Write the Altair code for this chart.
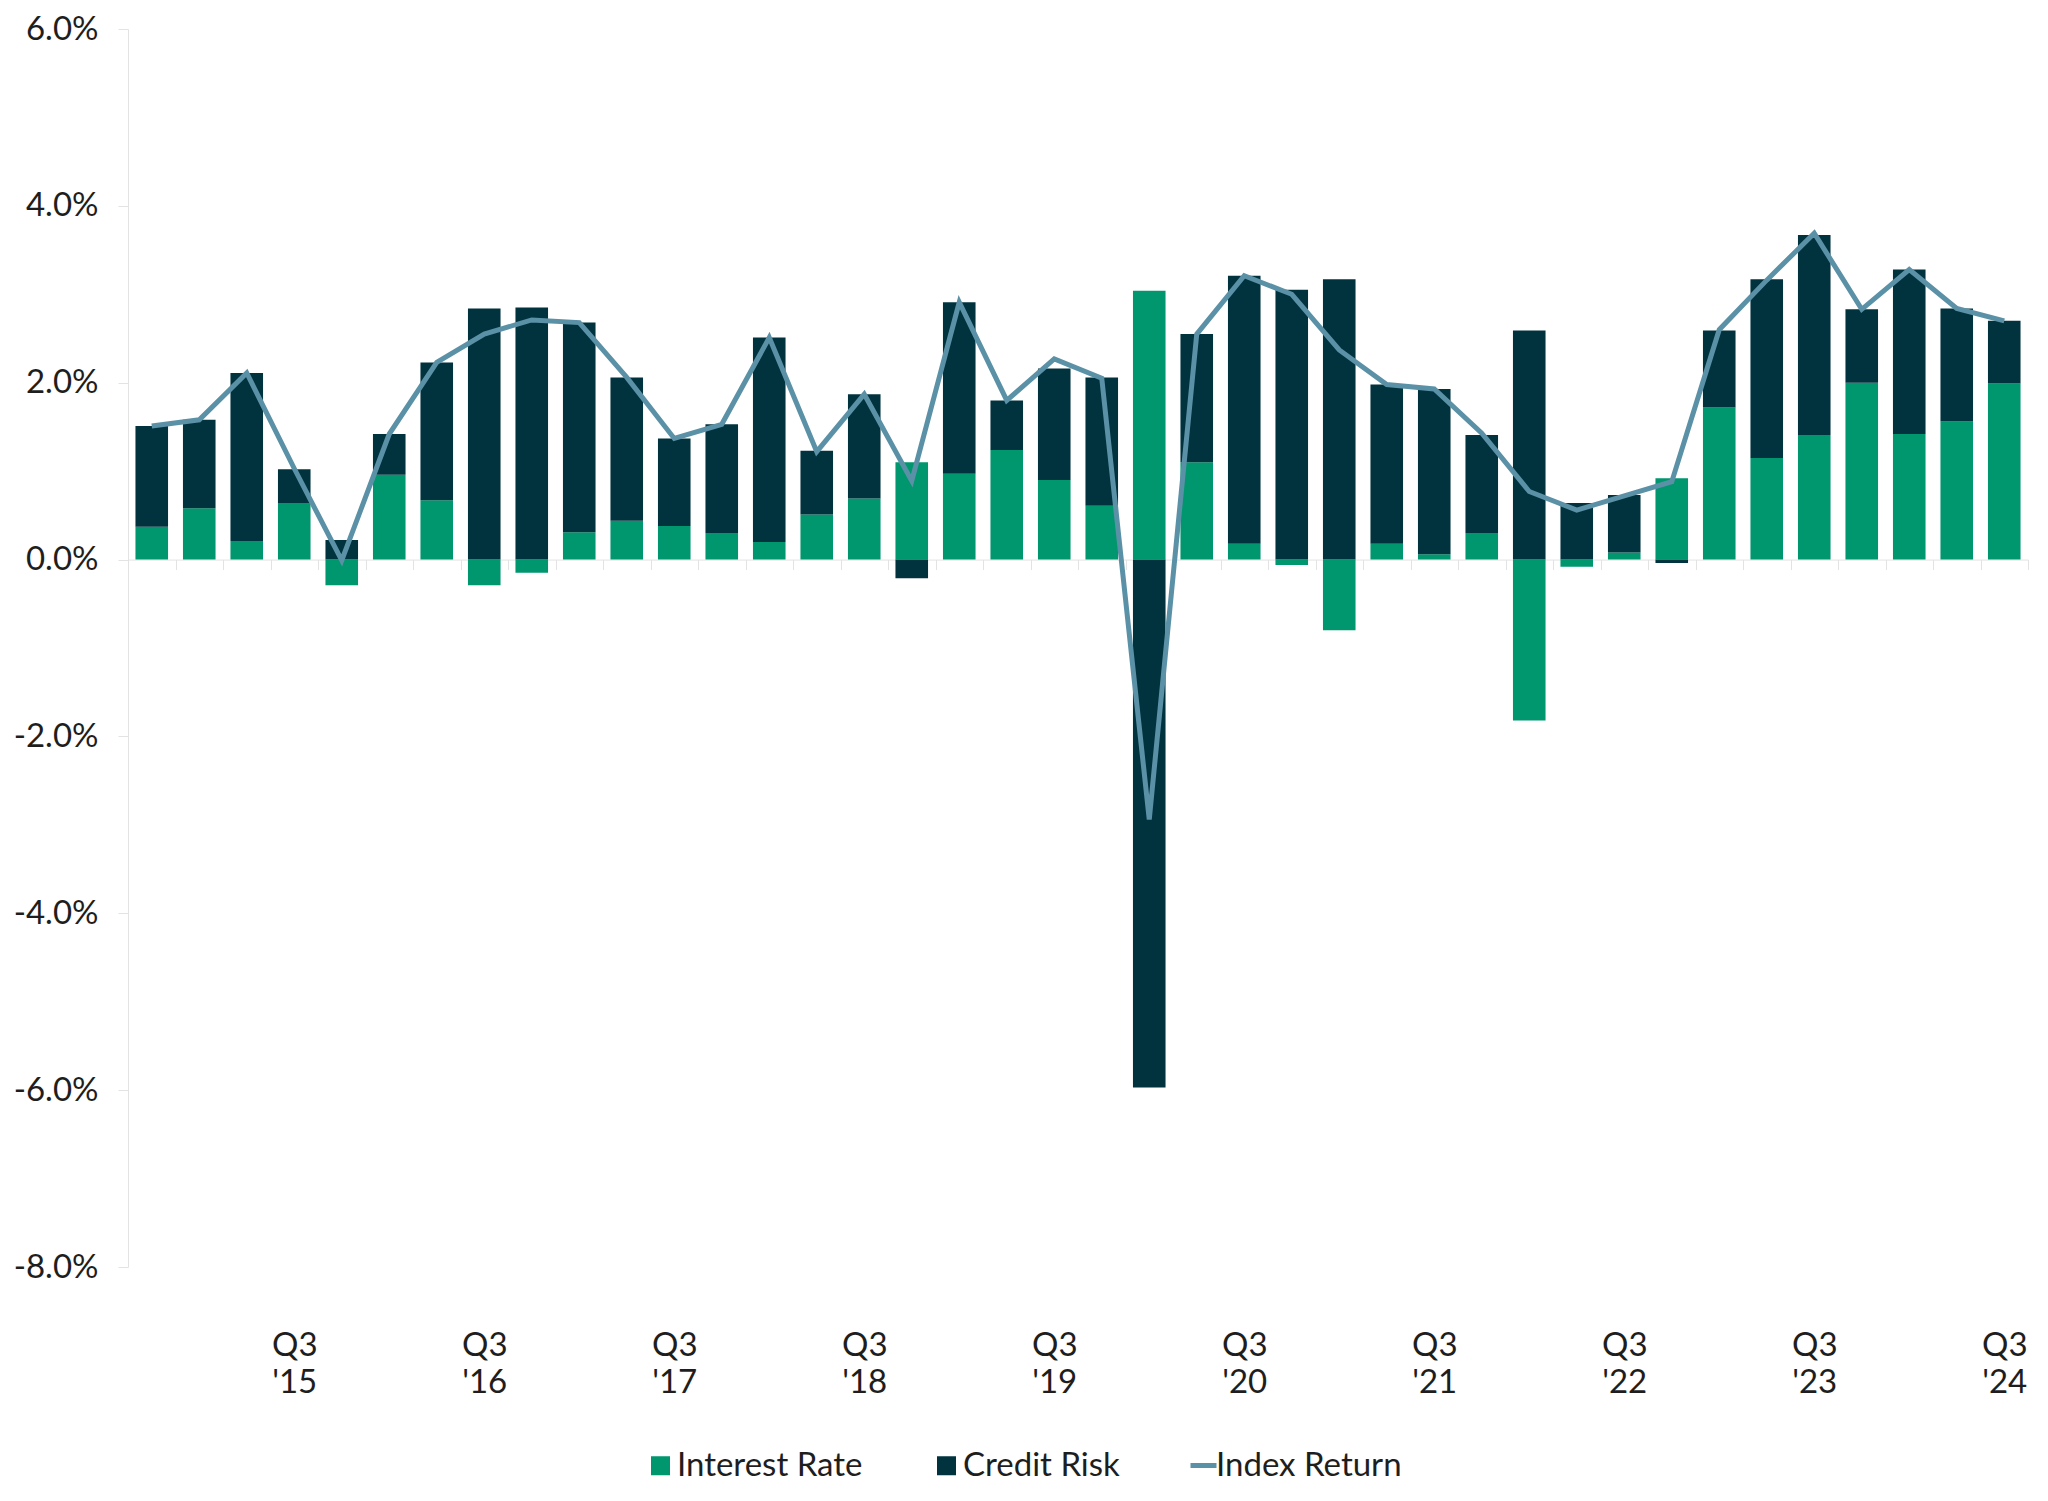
import altair as alt
import pandas as pd

quarters = [
    "Q4 '14", "Q1 '15", "Q2 '15", "Q3 '15", "Q4 '15", "Q1 '16", "Q2 '16", "Q3 '16",
    "Q4 '16", "Q1 '17", "Q2 '17", "Q3 '17", "Q4 '17", "Q1 '18", "Q2 '18", "Q3 '18",
    "Q4 '18", "Q1 '19", "Q2 '19", "Q3 '19", "Q4 '19", "Q1 '20", "Q2 '20", "Q3 '20",
    "Q4 '20", "Q1 '21", "Q2 '21", "Q3 '21", "Q4 '21", "Q1 '22", "Q2 '22", "Q3 '22",
    "Q4 '22", "Q1 '23", "Q2 '23", "Q3 '23", "Q4 '23", "Q1 '24", "Q2 '24", "Q3 '24",
]

interest_rate = [
    0.37, 0.58, 0.21, 0.64, -0.29, 0.96, 0.67, -0.29,
    -0.15, 0.31, 0.44, 0.38, 0.30, 0.20, 0.51, 0.69,
    1.10, 0.97, 1.24, 0.90, 0.61, 3.04, 1.10, 0.18,
    -0.06, -0.80, 0.18, 0.06, 0.30, -1.82, -0.08, 0.08,
    0.92, 1.72, 1.15, 1.41, 2.00, 1.42, 1.56, 1.99,
]

credit_risk = [
    1.14, 1.00, 1.90, 0.38, 0.22, 0.46, 1.56, 2.84,
    2.85, 2.37, 1.62, 0.99, 1.23, 2.31, 0.72, 1.18,
    -0.21, 1.94, 0.56, 1.26, 1.45, -5.97, 1.45, 3.03,
    3.05, 3.17, 1.80, 1.87, 1.11, 2.59, 0.64, 0.65,
    -0.04, 0.87, 2.02, 2.26, 0.83, 1.86, 1.28, 0.71,
]

index_return = [
    1.51, 1.58, 2.11, 1.03, -0.01, 1.42, 2.23, 2.55,
    2.71, 2.68, 2.06, 1.37, 1.53, 2.51, 1.22, 1.87,
    0.89, 2.91, 1.80, 2.27, 2.05, -2.94, 2.55, 3.21,
    3.00, 2.37, 1.98, 1.93, 1.43, 0.77, 0.56, 0.72,
    0.88, 2.60, 3.16, 3.69, 2.83, 3.28, 2.84, 2.70,
]

series_names = ["Interest Rate", "Credit Risk"]
y_ticks = [-8, -6, -4, -2, 0, 2, 4, 6]

GREEN = "#00966E"
DARK = "#01333F"
LINE = "#5B91A6"
GRAY = "#E3E3E3"
TEXT = "#1E1E1E"
FONT = "Lato"
FS = 33

rows = []
for q, ir, cr in zip(quarters, interest_rate, credit_risk):
    rows.append({"quarter": q, "series": series_names[0], "value": ir, "ord": 0})
    rows.append({"quarter": q, "series": series_names[1], "value": cr, "ord": 1})
bars_df = pd.DataFrame(rows)
line_df = pd.DataFrame({"quarter": quarters, "value": index_return, "name": "Index Return"})

W, H = 1900, 1238
y_min, y_max = -8, 6
zero_offset = -H * (0 - y_min) / (y_max - y_min)

x_axis = alt.Axis(
    title=None,
    orient="bottom",
    offset=zero_offset,
    tickBand="extent",
    domainColor=GRAY,
    domainWidth=1,
    tickColor=GRAY,
    tickWidth=1,
    tickSize=10,
    grid=False,
    labelAngle=0,
    labelAlign="center",
    labelBaseline="top",
    labelPadding=760,
    labelFontSize=FS,
    labelLineHeight=37,
    labelColor=TEXT,
    labelFont=FONT,
    labelOverlap=False,
    labelFlush=False,
    labelExpr="(isString(datum.value) && indexof(datum.value, 'Q3') === 0) ? split(datum.value, ' ') : ''",
)

y_axis = alt.Axis(
    title=None,
    values=y_ticks,
    domainColor=GRAY,
    domainWidth=1,
    tickColor=GRAY,
    tickWidth=1,
    tickSize=10,
    grid=False,
    labelPadding=20,
    labelFontSize=FS,
    labelColor=TEXT,
    labelFont=FONT,
    labelExpr="replace(format(datum.value, '.1f'), '\u2212', '-') + '%'",
)

x_scale = alt.Scale(paddingInner=0, paddingOuter=0)
y_scale = alt.Scale(domain=[y_min, y_max], nice=False, zero=False)

bars = alt.Chart(bars_df).mark_bar(width=alt.RelativeBandSize(0.686)).encode(
    x=alt.X("quarter:N", sort=quarters, scale=x_scale, axis=x_axis),
    y=alt.Y("value:Q", stack="zero", scale=y_scale, axis=y_axis),
    color=alt.Color(
        "series:N",
        scale=alt.Scale(domain=series_names, range=[GREEN, DARK]),
        legend=alt.Legend(
            title=None,
            orient="none",
            legendX=516,
            legendY=1420,
            direction="horizontal",
            columns=2,
            symbolType="square",
            symbolSize=361,
            symbolStrokeWidth=0,
            labelFontSize=FS,
            labelFont=FONT,
            labelColor=TEXT,
            labelLimit=0,
            labelOffset=0,
            columnPadding=67,
            padding=0,
        ),
    ),
    order=alt.Order("ord:Q"),
)

line = alt.Chart(line_df).mark_line(strokeWidth=5).encode(
    x=alt.X("quarter:N", sort=quarters),
    y=alt.Y("value:Q"),
    stroke=alt.Stroke(
        "name:N",
        scale=alt.Scale(domain=["Index Return"], range=[LINE]),
        legend=alt.Legend(
            title=None,
            orient="none",
            legendX=1059,
            legendY=1420,
            direction="horizontal",
            symbolType="stroke",
            symbolSize=676,
            symbolStrokeWidth=5,
            labelFontSize=FS,
            labelFont=FONT,
            labelColor=TEXT,
            labelLimit=0,
            labelOffset={"expr": "-4"},
            padding=0,
        ),
    ),
)

chart = (
    alt.layer(bars, line)
    .properties(width=W, height=H, background="white")
    .configure(font=FONT)
    .configure_view(stroke=None)
)

chart.save("out.html", embed_options={"renderer": "svg", "actions": False})
